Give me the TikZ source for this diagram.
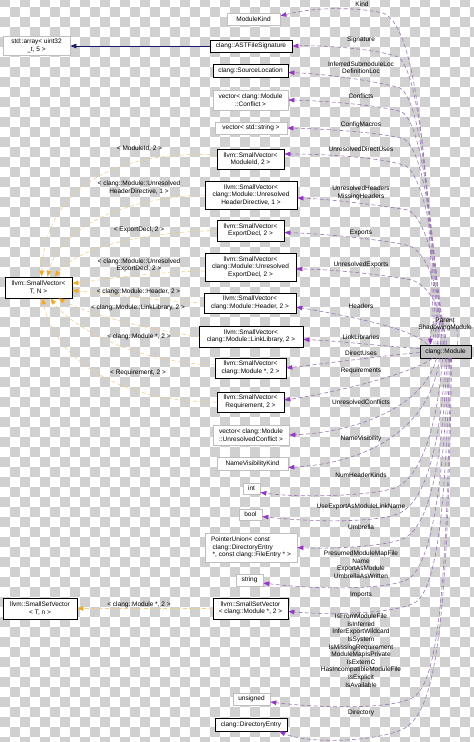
\documentclass[tikz,border=0pt]{standalone}
\usepackage{fontspec}
\setmainfont{Liberation Sans}
\usetikzlibrary{arrows.meta}
\definecolor{chk}{HTML}{D0D0D0}
\definecolor{pur}{HTML}{9A32CD}
\definecolor{purl}{HTML}{9A78B8}
\definecolor{orl}{HTML}{EFCF90}
\definecolor{ora}{HTML}{F8A820}
\definecolor{navyc}{HTML}{191970}
\definecolor{lgb}{HTML}{BFBFBF}
\newcommand{\dfont}{\fontsize{6.5}{7.6}\selectfont}
\begin{document}
\begin{tikzpicture}[x=1pt,y=-1pt,
  box/.style={draw=black, fill=white, line width=0.7pt, font=\dfont, align=center, inner sep=1pt},
  gbox/.style={box, draw=lgb},
  lab/.style={font=\dfont, align=center, inner sep=0pt},
  pe/.style={draw=purl, line width=0.6pt, dash pattern=on 4pt off 2.5pt, -{Triangle[length=6pt,width=4.5pt,color=pur]}},
  oe/.style={draw=orl, line width=0.6pt, dash pattern=on 4pt off 2.5pt, -{Triangle[length=6pt,width=4.5pt,color=ora]}},
  be/.style={draw=navyc, line width=0.7pt, -{Triangle[length=6pt,width=4.5pt,color=navyc]}}]
\useasboundingbox (0,0) rectangle (474,742);
\fill[white] (0,0) rectangle (474,742);
\foreach \a in {0,...,23}{\foreach \b in {0,...,37}{
  \fill[chk] (20*\a,20*\b-3) rectangle +(10,10);
  \fill[chk] (20*\a+10,20*\b+7) rectangle +(10,10);}}

% nodes
\node[gbox, minimum width=53, minimum height=12] (mk) at (253.5,19) {ModuleKind};
\node[gbox, minimum width=67, minimum height=19] (sa) at (36.5,46) {std::array< uint32\\\_t, 5 >};
\node[box, minimum width=82, minimum height=12] (sig) at (251,46) {clang::ASTFileSignature};
\node[box, minimum width=75, minimum height=13] (sl) at (250.5,70.5) {clang::SourceLocation};
\node[gbox, minimum width=75, minimum height=20] (vc) at (250.5,100) {vector< clang::Module\\::Conflict >};
\node[gbox, minimum width=72, minimum height=12] (vs) at (251,128) {vector< std::string >};
\node[box, minimum width=67, minimum height=20] (smi) at (250.5,159) {llvm::SmallVector<\\ModuleId, 2 >};
\node[box, minimum width=92, minimum height=28] (shd) at (251,195) {llvm::SmallVector<\\clang::Module::Unresolved\\HeaderDirective, 1 >};
\node[box, minimum width=67, minimum height=21] (sed) at (250.5,230.5) {llvm::SmallVector<\\ExportDecl, 2 >};
\node[box, minimum width=91, minimum height=28] (sued) at (250.5,267) {llvm::SmallVector<\\clang::Module::Unresolved\\ExportDecl, 2 >};
\node[box, minimum width=92, minimum height=20] (shdr) at (250,303) {llvm::SmallVector<\\clang::Module::Header, 2 >};
\node[box, minimum width=104, minimum height=21] (sll) at (251,336.5) {llvm::SmallVector<\\clang::Module::LinkLibrary, 2 >};
\node[box, minimum width=71, minimum height=20] (smp) at (250.5,368) {llvm::SmallVector<\\clang::Module *, 2 >};
\node[box, minimum width=67, minimum height=20] (srq) at (250.5,402) {llvm::SmallVector<\\Requirement, 2 >};
\node[gbox, minimum width=76, minimum height=20] (vuc) at (251,435) {vector< clang::Module\\::UnresolvedConflict >};
\node[gbox, minimum width=71, minimum height=13] (nvk) at (252.5,463.5) {NameVisibilityKind};
\node[gbox, minimum width=17, minimum height=11] (int) at (251.5,488.5) {int};
\node[gbox, minimum width=23, minimum height=11] (bool) at (250.5,514.5) {bool};
\node[gbox, minimum width=92, minimum height=29, align=left] (pu) at (251,547.5) {PointerUnion< const\\\hspace*{1.5pt}clang::DirectoryEntry\\\hspace*{1.5pt}*, const clang::FileEntry * >};
\node[gbox, minimum width=27, minimum height=12] (str) at (249.5,580) {string};
\node[box, minimum width=75, minimum height=21] (ssv) at (250.5,608.5) {llvm::SmallSetVector\\< clang::Module *, 2 >};
\node[gbox, minimum width=37, minimum height=12] (uns) at (251.5,699) {unsigned};
\node[box, minimum width=72, minimum height=13] (de) at (251,724.5) {clang::DirectoryEntry};
\node[box, minimum width=67, minimum height=21] (svtn) at (38.5,287.5) {llvm::SmallVector<\\T, N >};
\node[box, minimum width=74, minimum height=21] (ssvt) at (40,608.5) {llvm::SmallSetVector\\< T, n >};
\node[box, fill=lgb, minimum width=51, minimum height=13] (mod) at (445.5,351.5) {clang::Module};

% purple member edges (upper)
\draw[pe] ([xshift=-11.5pt]mod.north) .. controls (428,150) and (415,25) .. (383,13) .. controls (350,6) and (310,8) .. ([yshift=3pt]mk.east);
\draw[pe] ([xshift=-9.5pt]mod.north) .. controls (430,180) and (418,70) .. (398,57) .. controls (380,50) and (330,45) .. (sig.east);
\draw[pe] ([xshift=-8pt]mod.north) .. controls (432,200) and (420,100) .. (400,88) .. controls (380,82) and (330,74) .. ([yshift=-2pt]sl.east);
\draw[pe] ([xshift=-6.5pt]mod.north) .. controls (434,220) and (422,125) .. (402,112) .. controls (385,106) and (330,101) .. (vc.east);
\draw[pe] ([xshift=-5pt]mod.north) .. controls (436,240) and (424,150) .. (404,139) .. controls (385,133) and (330,129) .. (vs.east);
\draw[pe] ([xshift=-3.5pt]mod.north) .. controls (438,260) and (426,180) .. (406,166) .. controls (385,158) and (330,154) .. ([yshift=5pt]smi.east);
\draw[pe] ([xshift=-2pt]mod.north) .. controls (440,280) and (428,220) .. (408,210) .. controls (385,206) and (330,199) .. ([yshift=-3pt]shd.east);
\draw[pe] ([xshift=-0.5pt]mod.north) .. controls (442,300) and (430,255) .. (410,246) .. controls (385,240) and (330,234) .. ([yshift=-2pt]sed.east);
\draw[pe] ([xshift=1pt]mod.north) .. controls (444,315) and (432,287) .. (412,280) .. controls (385,275) and (330,269) .. ([yshift=-2pt]sued.east);
\draw[pe] ([xshift=-18pt]mod.north) .. controls (415,330) and (360,318) .. ([yshift=-4pt]shdr.east);
\draw[pe] ([yshift=3pt]mod.west) .. controls (380,346) and (340,341) .. ([yshift=-3pt]sll.east);
\draw[pe] ([yshift=-1pt]mod.west) .. controls (380,356) and (330,363) .. (smp.east);
% purple member edges (lower)
\draw[pe] ([xshift=-13pt]mod.south) .. controls (415,372) and (340,392) .. ([yshift=2pt]srq.east);
\draw[pe] ([xshift=-9pt]mod.south) .. controls (425,405) and (360,432) .. (vuc.east);
\draw[pe] ([xshift=-6pt]mod.south) .. controls (432,420) and (380,462) .. ([yshift=-4pt]nvk.east);
\draw[pe] ([xshift=-3pt]mod.south) .. controls (437,430) and (420,478) .. (395,488) .. controls (370,496) and (300,498) .. ([yshift=-4pt]int.east);
\draw[pe] (mod.south) .. controls (440,450) and (425,500) .. (400,513) .. controls (380,522) and (320,523) .. ([yshift=-2pt]bool.east);
\draw[pe] ([xshift=1.5pt]mod.south) .. controls (442,470) and (428,525) .. (405,538) .. controls (385,547) and (330,549) .. (pu.east);
\draw[pe] ([xshift=3pt]mod.south) .. controls (444,480) and (432,560) .. (410,578) .. controls (392,590) and (320,590) .. ([yshift=-3pt]str.east);
\draw[pe] ([xshift=4pt]mod.south) .. controls (446,500) and (438,585) .. (416,602) .. controls (396,614) and (330,615) .. ([yshift=-3pt]ssv.east);
\draw[pe] ([xshift=5pt]mod.south) .. controls (447,600) and (437,680) .. (414,697) .. controls (392,710) and (320,708) .. ([yshift=-3pt]uns.east);
\draw[pe] ([xshift=6pt]mod.south) .. controls (448,640) and (434,710) .. (405,728) .. controls (382,741) and (310,745) .. ([xshift=-8pt]de.south east);
% self loop
\draw[pe] ([xshift=12pt]mod.north) .. controls (462,310) and (430,310) .. ([xshift=-15pt]mod.north);

% orange template edges
\draw[oe] ([yshift=4pt]smi.west) .. controls (120,150) and (45,185) .. ([xshift=3pt]svtn.north);
\draw[oe] (shd.west) .. controls (130,197) and (60,225) .. ([xshift=9pt]svtn.north);
\draw[oe] (sed.west) .. controls (150,232) and (80,245) .. ([xshift=16pt]svtn.north);
\draw[oe] ([yshift=-4pt]sued.west) .. controls (150,272) and (100,280) .. ([yshift=4pt]svtn.east);
\draw[oe] (shdr.west) .. controls (150,300) and (100,293) .. ([yshift=-3pt]svtn.east);
\draw[oe] (sll.west) .. controls (150,330) and (90,315) .. ([xshift=20pt]svtn.south);
\draw[oe] ([yshift=3pt]smp.west) .. controls (130,362) and (70,325) .. ([xshift=12pt]svtn.south);
\draw[oe] (srq.west) .. controls (120,402) and (55,360) .. ([xshift=4pt]svtn.south);
\draw[oe] (ssv.west) -- (ssvt.east);
% blue
\draw[be] (sig.west) -- (sa.east);

% labels purple
\node[lab] (lKind) at (362,4) {Kind};
\node[lab] (lSig) at (361,40) {Signature};
\node[lab] (lSL) at (361,67.5) {InferredSubmoduleLoc\\DefinitionLoc};
\node[lab] (lCf) at (361,96) {Conflicts};
\node[lab] (lCM) at (361,125) {ConfigMacros};
\node[lab] (lUDU) at (361,149) {UnresolvedDirectUses};
\node[lab] (lUH) at (361,193) {UnresolvedHeaders\\MissingHeaders};
\node[lab] (lEx) at (361,233) {Exports};
\node[lab] (lUE) at (361,265) {UnresolvedExports};
\node[lab] (lHd) at (361,306) {Headers};
\node[lab] (lLL) at (361,337) {LinkLibraries};
\node[lab] (lDU) at (361,353) {DirectUses};
\node[lab] (lRq) at (361,371) {Requirements};
\node[lab] (lUC) at (361,402) {UnresolvedConflicts};
\node[lab] (lNV) at (361,439) {NameVisibility};
\node[lab] (lNH) at (361,475) {NumHeaderKinds};
\node[lab] (lUEA) at (361,507) {UseExportAsModuleLinkName};
\node[lab] (lUm) at (361,527) {Umbrella};
\node[lab] (lPM) at (361,564.5) {PresumedModuleMapFile\\Name\\ExportAsModule\\UmbrellaAsWritten};
\node[lab] (lIm) at (361,595) {Imports};
\node[lab] (lIs) at (361,650.5) {IsFromModuleFile\\IsInferred\\InferExportWildcard\\IsSystem\\IsMissingRequirement\\ModuleMapIsPrivate\\IsExternC\\HasIncompatibleModuleFile\\IsExplicit\\IsAvailable};
\node[lab] (lDir) at (361,713) {Directory};
\node[lab] (lPar) at (445,324.5) {Parent\\ShadowingModule};
% labels orange
\node[lab] (oMI) at (139.5,149) {< ModuleId, 2 >};
\node[lab] (oHD) at (139,187.5) {< clang::Module::Unresolved\\HeaderDirective, 1 >};
\node[lab] (oED) at (139,230) {< ExportDecl, 2 >};
\node[lab] (oUED) at (139,265.5) {< clang::Module::Unresolved\\ExportDecl, 2 >};
\node[lab] (oHdr) at (138.5,292) {< clang::Module::Header, 2 >};
\node[lab] (oLL) at (138,308) {< clang::Module::LinkLibrary, 2 >};
\node[lab] (oMP) at (139,337) {< clang::Module *, 2 >};
\node[lab] (oRq) at (138,373) {< Requirement, 2 >};
\node[lab] (oSS) at (139,605) {< clang::Module *, 2 >};
\end{tikzpicture}
\end{document}
